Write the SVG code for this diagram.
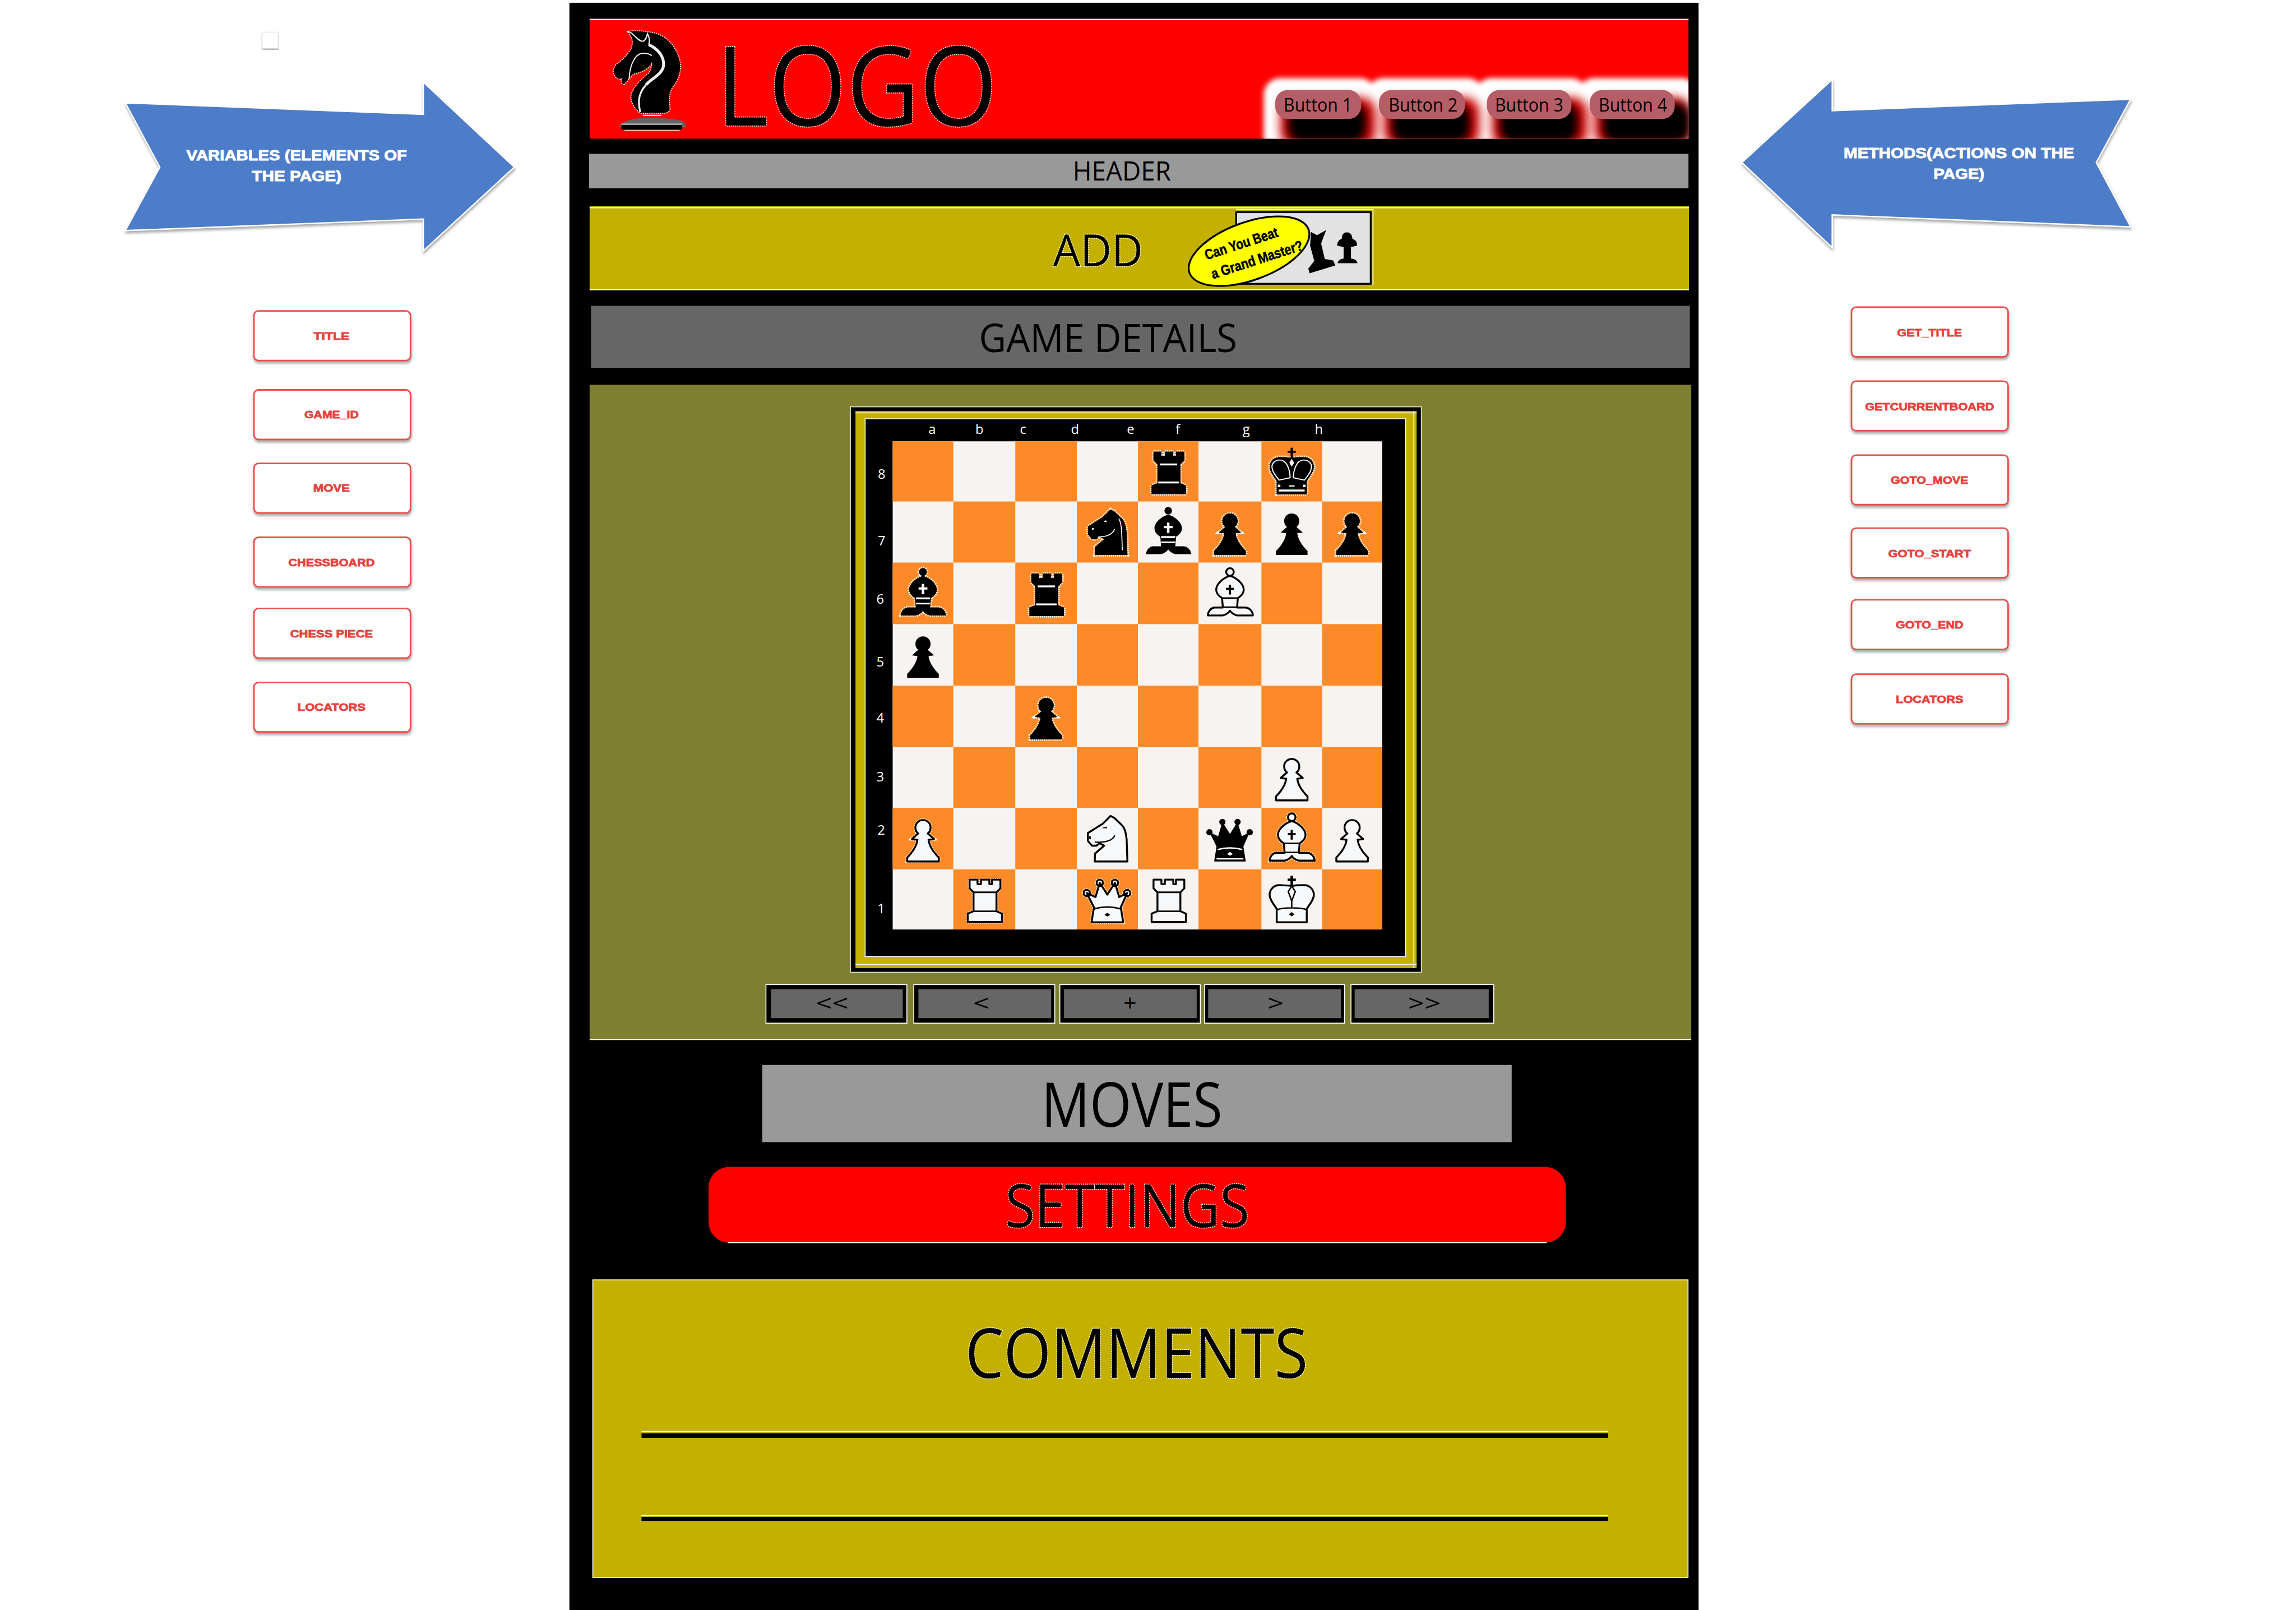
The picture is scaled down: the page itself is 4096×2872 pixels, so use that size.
<svg xmlns="http://www.w3.org/2000/svg" width="4096" height="2872" viewBox="0 0 4096 2872">
<style>
.os{font-family:"Open Sans","Noto Sans",sans-serif;fill:#000;text-anchor:middle}
.sb{font-weight:500}
.dot{stroke:#fff;stroke-width:4;stroke-dasharray:2 3;paint-order:stroke}
.ls{font-family:"Liberation Sans",Arial,sans-serif;font-weight:700;text-anchor:middle}
.arrow{fill:#4e7bc9;stroke:#fff;stroke-width:3;filter:url(#sh)}
.arrowt{fill:#fff;stroke:#fff;stroke-width:1.2;font-size:32px}
.box{fill:#fff;stroke:#e8504c;stroke-width:3.5;filter:url(#sh)}
.boxt{fill:#e8413d;stroke:#e8413d;stroke-width:1;font-size:23px}
.btn{fill:#b65e68}
.btnt{font-size:40px}
.lab{font-family:"Open Sans","Noto Sans",sans-serif;fill:#fff;font-size:29px;text-anchor:middle}
.or{fill:#fd8a28}
.bk{fill:#000}
.wf{fill:#f6f8fa;stroke:#000;stroke-width:12;stroke-linejoin:round}
.halo{fill:#000;stroke:#fff;stroke-width:22;stroke-dasharray:6 7;paint-order:stroke}
.dw{fill:#fff}
.lw{fill:none;stroke:#fff}
.lb{fill:none;stroke:#000}
.navo{fill:#000;stroke:#fff;stroke-width:2}
.navi{fill:#666}
.navt{font-size:50px}
</style>
<defs>
<filter id="sh" x="-5%" y="-5%" width="110%" height="115%"><feDropShadow dx="1" dy="5" stdDeviation="2.5" flood-color="#888" flood-opacity=".7"/></filter>
<filter id="b0" x="-30%" y="-30%" width="160%" height="160%"><feGaussianBlur stdDeviation="6"/></filter>
<filter id="b1" x="-30%" y="-30%" width="160%" height="160%"><feGaussianBlur stdDeviation="11"/></filter>
<filter id="b2" x="-30%" y="-30%" width="160%" height="160%"><feGaussianBlur stdDeviation="10"/></filter>
<clipPath id="hc"><rect x="1284" y="43" width="2393" height="259"/></clipPath>
<path id="pRook" d="M-93,-125H-43V-97H-21V-125H32V-97H49V-125H102V-70L77,-45V75L112,90V143H-105V90L-68,75V-45L-93,-70Z"/>
<path id="pPawn" d="M0,-117C28,-117 48,-95 48,-70C48,-52 40,-40 30,-32L70,3L35,8C40,50 70,90 100,120V145H-100V120C-70,90 -40,50 -35,8L-70,3L-30,-32C-40,-40 -48,-52 -48,-70C-48,-95 -28,-117 0,-117Z"/>
<path id="pBishop" d="M-24,-135a24,24 0 1,1 48,0a24,24 0 1,1 -48,0ZM0,-110C40,-100 87,-60 87,-25C87,5 65,20 50,30L45,90L100,90C130,95 145,120 145,140H45C25,135 10,125 0,110C-10,125 -25,135 -45,140H-140C-140,120 -125,95 -100,90L-45,90L-50,30C-65,20 -87,5 -87,-25C-87,-60 -40,-100 0,-110Z"/>
<path id="pKnight" d="M20,-143L-28,-95L-123,-35V15L-98,45H-70L-50,30L-20,45L-78,95L-80,145H127L122,5C118,-40 108,-70 92,-85L45,-130Z"/>
<path id="pKing" d="M0,-85C30,-90 50,-90 80,-90C115,-90 140,-60 140,-30C140,0 115,30 95,60V145H-95V60C-115,30 -140,0 -140,-30C-140,-60 -115,-90 -80,-90C-50,-90 -30,-90 0,-85Z"/>
<path id="pQueen" d="M-68,-105a20,20 0 1,1 40,0a20,20 0 1,1 -40,0ZM28,-105a20,20 0 1,1 40,0a20,20 0 1,1 -40,0ZM-150,-40a20,20 0 1,1 40,0a20,20 0 1,1 -40,0ZM105,-40a20,20 0 1,1 40,0a20,20 0 1,1 -40,0ZM-48,-105L0,-30L48,-105L75,-15L125,-40L85,50L100,145H-100L-85,50L-130,-40L-75,-15Z"/>
<g id="bR"><use href="#pRook"/><rect class="dw" x="-53" y="-50" width="110" height="12" stroke="none"/><rect class="dw" x="-63" y="64" width="130" height="12" stroke="none"/></g>
<g id="wR"><use href="#pRook" class="wf"/><path class="lb" stroke-width="10" d="M-68,-45H77M-68,75H77"/></g>
<g id="bP"><use href="#pPawn"/></g>
<g id="wP"><use href="#pPawn" class="wf"/></g>
<g id="bB"><use href="#pBishop"/><path class="dw" stroke="none" d="M-8,-60h16v22h20v14h-20v30h-16v-30h-20v-14h20z"/><rect class="dw" stroke="none" x="-45" y="26" width="90" height="12"/><rect class="dw" stroke="none" x="-45" y="60" width="90" height="10"/></g>
<g id="wB"><use href="#pBishop" class="wf"/><path class="bk" stroke="none" d="M-7,-55h14v20h18v12h-18v30h-14v-30h-18v-12h18z"/><path class="lb" stroke-width="10" d="M-50,30H50M-45,88H45"/></g>
<g id="bN"><use href="#pKnight"/><path class="lw" stroke-width="6" d="M-60,32C-20,30 30,25 47,-20M72,-85C95,-50 90,30 95,115" fill="none"/><path class="dw" stroke="none" d="M-11,-75l10,12h-22zM-98,-25h12v10h-12z"/></g>
<g id="wN"><use href="#pKnight" class="wf"/><path class="lb" stroke-width="8" d="M-80,22C-30,25 30,20 47,-20"/><path class="bk" stroke="none" d="M-30,-70l28,-5v10h-28zM-115,-15h10v18h-10z"/></g>
<g id="bK"><rect x="-7" y="-150" width="14" height="68"/><rect x="-26" y="-130" width="52" height="12"/><use href="#pKing"/><path class="lw" stroke-width="7" d="M-10,40C-12,-10 -30,-72 -75,-72C-110,-72 -125,-50 -125,-30C-125,0 -100,30 -80,55ZM10,40C12,-10 30,-72 75,-72C110,-72 125,-50 125,-30C125,0 100,30 80,55Z"/><path class="dw" stroke="none" d="M0,-80l15,25l-15,25l-15,-25zM-18,88h36v8h-36zM-88,84h16v16h-16zM72,84h16v16h-16zM-82,115h164v12h-164z"/></g>
<g id="wK"><rect x="-8" y="-150" width="16" height="68"/><rect x="-26" y="-132" width="52" height="16"/><use href="#pKing" class="wf"/><path class="lb" stroke-width="9" d="M0,-85L-22,-50L0,10V55M0,-85L22,-50L0,10M-95,65C-50,50 50,50 95,65"/><path class="bk" stroke="none" d="M0,80l18,14l-18,14l-18,-14z"/></g>
<g id="bQ"><use href="#pQueen"/><path class="lw" stroke-width="9" d="M-78,70Q0,48 78,70"/><path class="dw" stroke="none" d="M0,85l18,12l-18,12l-18,-12zM-85,124h170v9h-170z"/></g>
<g id="wQ"><use href="#pQueen" class="wf"/><path class="lb" stroke-width="10" d="M-85,60Q0,35 85,60"/><path class="bk" stroke="none" d="M0,85l18,12l-18,12l-18,-12z"/></g>
</defs>
<rect width="4096" height="2872" fill="#fff"/>
<g transform="scale(.8192)">
<g id="page-panel"><rect x="1240" y="6" width="2459" height="3500" fill="#000"/></g>

<g id="logo-bar">
<rect x="1284" y="41" width="2393" height="261" fill="#f00"/>
<rect x="1284" y="41" width="2393" height="3" fill="#fff"/>
<g clip-path="url(#hc)">
<g filter="url(#b0)" fill="#fff"><rect x="2752" y="170" width="245" height="165" rx="36"/><rect x="2977" y="170" width="255" height="165" rx="36"/><rect x="3212" y="170" width="245" height="165" rx="36"/><rect x="3436" y="170" width="262" height="165" rx="36"/></g>
<g filter="url(#b1)" fill="#d00000"><rect x="2788" y="212" width="208" height="108" rx="32"/><rect x="3014" y="212" width="208" height="108" rx="32"/><rect x="3249" y="212" width="208" height="108" rx="32"/><rect x="3473" y="212" width="208" height="108" rx="32"/></g>
<g filter="url(#b2)" fill="#000"><rect x="2805" y="225" width="170" height="85" rx="30"/><rect x="3031" y="225" width="170" height="85" rx="30"/><rect x="3266" y="225" width="170" height="85" rx="30"/><rect x="3490" y="225" width="190" height="85" rx="30"/></g>
</g>
<g id="logo-knight" transform="translate(1300,40) scale(.3333)">
<path style="stroke:#fff;stroke-width:14px;stroke-dasharray:6 8;paint-order:stroke" d="M205,88C250,80 330,85 400,105C460,130 520,190 540,280C550,340 535,400 490,450C468,490 465,540 475,590C470,610 455,617 440,617H285C250,590 222,550 225,510C230,460 280,410 340,360C355,340 362,310 360,285C340,330 290,350 240,362C215,375 200,410 175,430C160,430 158,400 165,385C150,405 130,390 120,375C105,355 105,335 125,305C150,285 190,260 225,200C240,165 240,130 205,88Z"/>
<path fill="none" stroke="#eee" stroke-width="8" d="M207,88C240,95 265,150 300,150C320,145 325,120 330,100C345,125 345,155 338,172"/>
<path fill="none" stroke="#eee" stroke-width="19" d="M338,172C400,200 440,250 435,310C425,370 350,395 320,435"/>
<path fill="none" stroke="#eee" stroke-width="12" d="M320,435C280,480 262,530 283,612"/>
<path fill="none" stroke="#eee" stroke-width="7" d="M210,395C215,300 250,230 300,228C330,228 350,235 358,245"/>
<rect x="300" y="630" width="120" height="7" fill="#fff"/>
<path fill="#666" d="M145,708C170,670 230,652 330,650C430,648 500,660 540,665C565,672 580,690 583,708Z"/>
<rect x="160" y="688" width="395" height="7" fill="#fff"/><rect x="160" y="695" width="395" height="31" fill="#000"/><rect x="180" y="731" width="360" height="5" fill="#fff"/>
</g>
<text class="os sb dot" x="1866" y="274" font-size="240" textLength="612" lengthAdjust="spacingAndGlyphs">LOGO</text>
<g id="btn1"><rect class="btn" x="2777" y="196" width="187" height="63" rx="27"/><text class="os btnt" x="2870" y="243" textLength="149" lengthAdjust="spacingAndGlyphs">Button 1</text></g>
<g id="btn2"><rect class="btn" x="3003" y="196" width="187" height="63" rx="27"/><text class="os btnt" x="3099" y="243" textLength="150" lengthAdjust="spacingAndGlyphs">Button 2</text></g>
<g id="btn3"><rect class="btn" x="3238" y="196" width="184" height="63" rx="27"/><text class="os btnt" x="3330" y="243" textLength="149" lengthAdjust="spacingAndGlyphs">Button 3</text></g>
<g id="btn4"><rect class="btn" x="3462" y="196" width="185" height="63" rx="27"/><text class="os btnt" x="3556" y="243" textLength="149" lengthAdjust="spacingAndGlyphs">Button 4</text></g>
</g>

<g id="header"><rect x="1283" y="335" width="2394" height="75" fill="#999"/><text class="os" x="2443" y="393" font-size="59" textLength="214" lengthAdjust="spacingAndGlyphs">HEADER</text></g>

<g id="add">
<rect x="1284" y="449" width="2394" height="183" fill="#c4b000"/>
<path d="M1284,452.500H3678M1284,631H3678" stroke="#fff" stroke-width="2" fill="none"/>
<text class="os sb dot" x="2391" y="580" font-size="95" textLength="196" lengthAdjust="spacingAndGlyphs">ADD</text>
<rect x="2692" y="462" width="293" height="156" fill="#e2e2e2" stroke="#000" stroke-width="4"/>
<path d="M2692,456H2990V621" fill="none" stroke="#fff" stroke-width="2"/>
<path d="M2855,505L2868,512L2888,501L2877,530L2885,564L2903,567L2908,578L2852,595L2849,585L2862,568L2853,535Z" fill="#000"/>
<path d="M2933,506C2941,506 2945,512 2945,520C2952,522 2956,527 2955,535L2942,538V563C2950,563 2956,568 2956,573H2913C2913,568 2920,563 2926,563V538L2912,535C2912,527 2916,522 2922,520C2922,512 2925,506 2933,506Z" fill="#000"/>
<ellipse cx="2720" cy="547" rx="138" ry="63" transform="rotate(-20 2720 547)" fill="#ff0" stroke="#000" stroke-width="4"/>
<text class="ls" x="2703" y="541" font-size="31" fill="#000" stroke="#000" stroke-width=".8" textLength="166" lengthAdjust="spacingAndGlyphs" transform="rotate(-18 2703 530)">Can You Beat</text>
<text class="ls" x="2737" y="576" font-size="31" fill="#000" stroke="#000" stroke-width=".8" textLength="208" lengthAdjust="spacingAndGlyphs" transform="rotate(-18 2737 565)">a Grand Master?</text>
</g>

<g id="game-details"><rect x="1287" y="666" width="2393" height="135" fill="#666"/><text class="os sb" x="2413" y="767" font-size="84" textLength="562" lengthAdjust="spacingAndGlyphs">GAME DETAILS</text></g>

<g id="game-panel">
<rect x="1284" y="838" width="2399" height="1426" fill="#7f7f31"/>
<path d="M1284,2264H3683" stroke="#fff" stroke-width="1.500"/>
</g>

<g id="chessboard">
<rect x="1852" y="886" width="1243" height="1231" fill="#000" stroke="#fff" stroke-width="1.500"/>
<rect x="1863" y="895" width="1222" height="1213" fill="#c4b000"/>
<path d="M1863,899H3085M1863,2100H3085M3079,895V2108" stroke="#fff" stroke-width="2" fill="none"/>
<rect x="1884" y="912" width="1177" height="1171" fill="#000" stroke="#fff" stroke-width="2"/>
<rect x="1944" y="961" width="1066" height="1063" fill="#f6f3f0"/>
<g class="or">
<rect x="1944" y="961" width="132" height="131"/><rect x="2211" y="961" width="134" height="131"/><rect x="2478" y="961" width="132" height="131"/><rect x="2747" y="961" width="132" height="131"/>
<rect x="2076" y="1092" width="135" height="133"/><rect x="2345" y="1092" width="133" height="133"/><rect x="2610" y="1092" width="137" height="133"/><rect x="2879" y="1092" width="131" height="133"/>
<rect x="1944" y="1225" width="132" height="134"/><rect x="2211" y="1225" width="134" height="134"/><rect x="2478" y="1225" width="132" height="134"/><rect x="2747" y="1225" width="132" height="134"/>
<rect x="2076" y="1359" width="135" height="134"/><rect x="2345" y="1359" width="133" height="134"/><rect x="2610" y="1359" width="137" height="134"/><rect x="2879" y="1359" width="131" height="134"/>
<rect x="1944" y="1493" width="132" height="134"/><rect x="2211" y="1493" width="134" height="134"/><rect x="2478" y="1493" width="132" height="134"/><rect x="2747" y="1493" width="132" height="134"/>
<rect x="2076" y="1627" width="135" height="132"/><rect x="2345" y="1627" width="133" height="132"/><rect x="2610" y="1627" width="137" height="132"/><rect x="2879" y="1627" width="131" height="132"/>
<rect x="1944" y="1759" width="132" height="134"/><rect x="2211" y="1759" width="134" height="134"/><rect x="2478" y="1759" width="132" height="134"/><rect x="2747" y="1759" width="132" height="134"/>
<rect x="2076" y="1893" width="135" height="131"/><rect x="2345" y="1893" width="133" height="131"/><rect x="2610" y="1893" width="137" height="131"/><rect x="2879" y="1893" width="131" height="131"/>
</g>
<g id="file-labels">
<text class="lab" x="2030" y="945">a</text><text class="lab" x="2133" y="945">b</text><text class="lab" x="2228" y="945">c</text><text class="lab" x="2341" y="945">d</text><text class="lab" x="2462" y="945">e</text><text class="lab" x="2565" y="945">f</text><text class="lab" x="2714" y="945">g</text><text class="lab" x="2872" y="945">h</text>
</g>
<g id="rank-labels">
<text class="lab" x="1920" y="1043">8</text><text class="lab" x="1920" y="1188">7</text><text class="lab" x="1917" y="1315">6</text><text class="lab" x="1917" y="1451">5</text><text class="lab" x="1917" y="1574">4</text><text class="lab" x="1917" y="1702">3</text><text class="lab" x="1919" y="1818">2</text><text class="lab" x="1919" y="1988">1</text>
</g>
<g id="pieces">
<g transform="translate(2544,1026.500) scale(.344)"><use href="#pRook" class="halo"/><use href="#bR"/></g>
<g transform="translate(2813,1026.500) scale(.344)"><use href="#pKing" class="halo"/><use href="#bK"/></g>
<g transform="translate(2411.500,1158.500) scale(.344)"><use href="#pKnight" class="halo"/><use href="#bN"/></g>
<use href="#bB" transform="translate(2544,1158.500) scale(.344)"/>
<g transform="translate(2678.500,1158.500) scale(.344)"><use href="#pPawn" class="halo"/><use href="#bP"/></g>
<use href="#bP" transform="translate(2813,1158.500) scale(.344)"/>
<g transform="translate(2944.500,1158.500) scale(.344)"><use href="#pPawn" class="halo"/><use href="#bP"/></g>
<g transform="translate(2010,1292) scale(.344)"><use href="#pBishop" class="halo"/><use href="#bB"/></g>
<g transform="translate(2278,1292) scale(.344)"><use href="#pRook" class="halo"/><use href="#bR"/></g>
<use href="#wB" transform="translate(2678.500,1292) scale(.344)"/>
<use href="#bP" transform="translate(2010,1426) scale(.344)"/>
<g transform="translate(2278,1560) scale(.344)"><use href="#pPawn" class="halo"/><use href="#bP"/></g>
<use href="#wP" transform="translate(2813,1693) scale(.344)"/>
<g transform="translate(2010,1826) scale(.344)"><use href="#pPawn" class="halo"/><use href="#wP"/></g>
<use href="#wN" transform="translate(2411.500,1826) scale(.344)"/>
<use href="#bQ" transform="translate(2678.500,1826) scale(.344)"/>
<g transform="translate(2813,1826) scale(.344)"><use href="#pBishop" class="halo"/><use href="#wB"/></g>
<use href="#wP" transform="translate(2944.500,1826) scale(.344)"/>
<g transform="translate(2143.500,1958.500) scale(.344)"><use href="#pRook" class="halo"/><use href="#wR"/></g>
<g transform="translate(2411.500,1958.500) scale(.344)"><use href="#pQueen" class="halo"/><use href="#wQ"/></g>
<use href="#wR" transform="translate(2544,1958.500) scale(.344)"/>
<use href="#wK" transform="translate(2813,1958.500) scale(.344)"/>
</g>
</g>

<g id="nav-first"><rect class="navo" x="1668" y="2144" width="307" height="84"/><rect class="navi" x="1679" y="2154" width="287" height="63"/><text class="os navt" x="1812" y="2202" textLength="72" lengthAdjust="spacingAndGlyphs">&lt;&lt;</text></g>
<g id="nav-prev"><rect class="navo" x="1990" y="2144" width="307" height="84"/><rect class="navi" x="2000" y="2154" width="289" height="63"/><text class="os navt" x="2137" y="2202" textLength="36" lengthAdjust="spacingAndGlyphs">&lt;</text></g>
<g id="nav-add"><rect class="navo" x="2308" y="2144" width="306" height="84"/><rect class="navi" x="2317" y="2154" width="289" height="63"/><text class="os navt" x="2461" y="2202">+</text></g>
<g id="nav-next"><rect class="navo" x="2623" y="2144" width="305" height="84"/><rect class="navi" x="2631" y="2154" width="289" height="63"/><text class="os navt" x="2778" y="2202" textLength="36" lengthAdjust="spacingAndGlyphs">&gt;</text></g>
<g id="nav-last"><rect class="navo" x="2942" y="2144" width="311" height="84"/><rect class="navi" x="2950" y="2154" width="292" height="63"/><text class="os navt" x="3102" y="2202" textLength="72" lengthAdjust="spacingAndGlyphs">&gt;&gt;</text></g>

<g id="moves"><rect x="1660" y="2319" width="1632" height="168" fill="#999"/><text class="os sb" x="2465" y="2454" font-size="134" textLength="394" lengthAdjust="spacingAndGlyphs">MOVES</text></g>

<g id="settings"><rect x="1543" y="2541" width="1867" height="165" rx="45" fill="#f00"/><path d="M1585,2706H3368" stroke="#fff" stroke-width="2.500"/><text class="os sb dot" x="2455" y="2672" font-size="130" textLength="532" lengthAdjust="spacingAndGlyphs">SETTINGS</text></g>

<g id="comments">
<rect x="1291" y="2787" width="2385" height="648" fill="#c4b000" stroke="#fff" stroke-width="2"/>
<text class="os sb dot" x="2475" y="3001" font-size="150" textLength="746" lengthAdjust="spacingAndGlyphs">COMMENTS</text>
<rect x="1397" y="3116" width="2105" height="2.500" fill="#fff"/><rect x="1397" y="3121" width="2105" height="10" fill="#000"/>
<rect x="1397" y="3299" width="2105" height="2.500" fill="#fff"/><rect x="1397" y="3303" width="2105" height="9" fill="#000"/>
</g>

<g id="small-checkbox"><rect x="571" y="70" width="35" height="35" fill="#fff" stroke="#e4e4e4" stroke-width="1.500" filter="url(#sh)"/></g>

<g id="variables-arrow">
<polygon class="arrow" points="273,224 922,249 922,179 1120,364 922,546 922,477 273,502 348,364"/>
<text class="ls arrowt" x="646" y="349" textLength="480" lengthAdjust="spacingAndGlyphs">VARIABLES (ELEMENTS OF</text>
<text class="ls arrowt" x="646" y="394" textLength="195" lengthAdjust="spacingAndGlyphs">THE PAGE)</text>
</g>
<g id="methods-arrow">
<polygon class="arrow" points="3793,354 3990,173 3990,241 4640,216 4565,354 4640,494 3990,468 3990,539"/>
<text class="ls arrowt" x="4266" y="344" textLength="502" lengthAdjust="spacingAndGlyphs">METHODS(ACTIONS ON THE</text>
<text class="ls arrowt" x="4266" y="390" textLength="111" lengthAdjust="spacingAndGlyphs">PAGE)</text>
</g>

<g id="var-title"><rect class="box" x="553" y="677" width="341" height="108" rx="10"/><text class="ls boxt" x="722" y="740" textLength="78" lengthAdjust="spacingAndGlyphs">TITLE</text></g>
<g id="var-game-id"><rect class="box" x="553" y="849" width="341" height="108" rx="10"/><text class="ls boxt" x="722" y="911" textLength="118" lengthAdjust="spacingAndGlyphs">GAME_ID</text></g>
<g id="var-move"><rect class="box" x="553" y="1009" width="341" height="108" rx="10"/><text class="ls boxt" x="722" y="1071" textLength="80" lengthAdjust="spacingAndGlyphs">MOVE</text></g>
<g id="var-chessboard"><rect class="box" x="553" y="1170" width="341" height="108" rx="10"/><text class="ls boxt" x="722" y="1233" textLength="188" lengthAdjust="spacingAndGlyphs">CHESSBOARD</text></g>
<g id="var-chess-piece"><rect class="box" x="553" y="1325" width="341" height="108" rx="10"/><text class="ls boxt" x="722" y="1388" textLength="180" lengthAdjust="spacingAndGlyphs">CHESS PIECE</text></g>
<g id="var-locators"><rect class="box" x="553" y="1486" width="341" height="108" rx="10"/><text class="ls boxt" x="722" y="1548" textLength="148" lengthAdjust="spacingAndGlyphs">LOCATORS</text></g>

<g id="m-get-title"><rect class="box" x="4032" y="669" width="341" height="108" rx="10"/><text class="ls boxt" x="4202" y="732" textLength="141" lengthAdjust="spacingAndGlyphs">GET_TITLE</text></g>
<g id="m-getcurrentboard"><rect class="box" x="4032" y="830" width="341" height="108" rx="10"/><text class="ls boxt" x="4202" y="893" textLength="281" lengthAdjust="spacingAndGlyphs">GETCURRENTBOARD</text></g>
<g id="m-goto-move"><rect class="box" x="4032" y="991" width="341" height="108" rx="10"/><text class="ls boxt" x="4202" y="1054" textLength="169" lengthAdjust="spacingAndGlyphs">GOTO_MOVE</text></g>
<g id="m-goto-start"><rect class="box" x="4032" y="1150" width="341" height="108" rx="10"/><text class="ls boxt" x="4202" y="1213" textLength="180" lengthAdjust="spacingAndGlyphs">GOTO_START</text></g>
<g id="m-goto-end"><rect class="box" x="4032" y="1306" width="341" height="108" rx="10"/><text class="ls boxt" x="4202" y="1369" textLength="147" lengthAdjust="spacingAndGlyphs">GOTO_END</text></g>
<g id="m-locators"><rect class="box" x="4032" y="1468" width="341" height="108" rx="10"/><text class="ls boxt" x="4202" y="1531" textLength="147" lengthAdjust="spacingAndGlyphs">LOCATORS</text></g>
</g>
</svg>
